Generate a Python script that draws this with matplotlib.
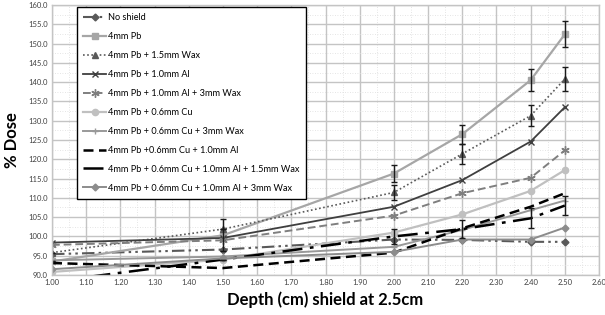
import matplotlib
matplotlib.use("Agg")
import matplotlib.pyplot as plt
from matplotlib.ticker import MultipleLocator, FormatStrFormatter

plt.rcParams['font.family'] = ['Lato', 'DejaVu Sans']

depth = [1.0, 1.5, 2.0, 2.2, 2.4, 2.5]

labels = [
    "No shield",
    "4mm Pb",
    "4mm Pb + 1.5mm Wax",
    "4mm Pb + 1.0mm Al",
    "4mm Pb + 1.0mm Al + 3mm Wax",
    "4mm Pb + 0.6mm Cu",
    "4mm Pb + 0.6mm Cu + 3mm Wax",
    "4mm Pb +0.6mm Cu + 1.0mm Al",
    "4mm Pb + 0.6mm Cu + 1.0mm Al + 1.5mm Wax",
    "4mm Pb + 0.6mm Cu + 1.0mm Al + 3mm Wax",
]

no_shield      = [95.4, 96.6, 99.2, 99.1, 98.6, 98.6]
pb             = [93.5, 100.3, 116.3, 126.5, 140.5, 152.4]
pb_wax15       = [95.8, 101.9, 111.4, 121.4, 131.3, 140.8]
pb_al          = [98.4, 99.6, 107.7, 114.6, 124.6, 133.5]
pb_al_wax3     = [97.8, 99.0, 105.4, 111.2, 115.2, 122.3]
pb_cu          = [90.8, 94.0, 101.0, 105.7, 111.8, 117.2]
pb_cu_wax3     = [93.8, 94.8, 97.3, 101.7, 106.8, 109.3]
pb_cu_al       = [93.1, 91.8, 95.8, 102.1, 107.7, 111.2]
pb_cu_al_wax15 = [88.3, 94.0, 100.0, 101.9, 104.7, 108.0]
pb_cu_al_wax3  = [91.5, 94.3, 96.0, 99.2, 99.2, 102.3]

err_pb         = [0, 4.1, 2.3, 2.5, 2.8, 3.4]
err_pb_wax15   = [0, 0, 2.0, 2.5, 2.7, 3.0]
err_cu_al_w15  = [0, 0, 2.0, 2.4, 2.6, 2.4]

series = [no_shield, pb, pb_wax15, pb_al, pb_al_wax3, pb_cu, pb_cu_wax3,
          pb_cu_al, pb_cu_al_wax15, pb_cu_al_wax3]

styles = [
    dict(color='#595959', ls=(0, (6, 2, 1.2, 2, 1.2, 2)), lw=1.5, marker='D', ms=3.5),
    dict(color='#a6a6a6', ls='-', lw=1.6, marker='s', ms=5),
    dict(color='#595959', ls=(0, (1, 1.5)), lw=1.2, marker='^', ms=4.5),
    dict(color='#3f3f3f', ls='-', lw=1.3, marker='x', ms=5, mew=1.0),
    dict(color='#7f7f7f', ls=(0, (4, 2)), lw=1.4, marker=(6, 2, 0), ms=6, mew=1.0),
    dict(color='#c0c0c0', ls='-', lw=1.6, marker='o', ms=4.5),
    dict(color='#999999', ls='-', lw=1.4, marker='+', ms=5, mew=1.0),
    dict(color='#000000', ls=(0, (4, 2.2)), lw=1.8, marker=None),
    dict(color='#000000', ls=(0, (8, 3, 1.5, 3)), lw=1.8, marker=None),
    dict(color='#8c8c8c', ls='-', lw=1.4, marker='D', ms=3.5),
]

fig = plt.figure(figsize=(6.05, 3.15), dpi=100)
ax = fig.add_axes([52/605, 40/315, 547/605, 270/315])

for vals, lab, st in zip(series, labels, styles):
    ax.plot(depth, vals, label=lab, **st)

for vals, err in [(pb, err_pb), (pb_wax15, err_pb_wax15), (pb_cu_al_wax15, err_cu_al_w15)]:
    ax.errorbar(depth, vals, yerr=err, fmt='none', ecolor='#1a1a1a', elinewidth=1.0,
                capsize=2, capthick=1.0)

ax.set_xlim(1.0, 2.6)
ax.set_ylim(90, 160)
ax.xaxis.set_major_locator(MultipleLocator(0.1))
ax.yaxis.set_major_locator(MultipleLocator(5))
ax.xaxis.set_major_formatter(FormatStrFormatter('%.2f'))
ax.yaxis.set_major_formatter(FormatStrFormatter('%.1f'))
ax.xaxis.set_minor_locator(MultipleLocator(0.05))
ax.yaxis.set_minor_locator(MultipleLocator(2.5))
ax.grid(which='major', color='#c4c4c4', lw=1.0)
ax.grid(which='minor', color='#dcdcdc', lw=0.6, ls=(0, (1, 2)))
ax.set_axisbelow(True)
ax.tick_params(which='both', length=0, labelsize=5.5, labelcolor='#404040', pad=3)
for sp in ax.spines.values():
    sp.set_color('#c4c4c4')
    sp.set_linewidth(1.0)

ax.set_xlabel("Depth (cm) shield at 2.5cm", fontsize=12, fontweight='bold', labelpad=4)
ax.set_ylabel("% Dose", fontsize=12, fontweight='bold', labelpad=6)

leg = ax.legend(loc='upper left', bbox_to_anchor=(25/547, 268/270), borderaxespad=0,
                fontsize=6.6, frameon=True, fancybox=False, edgecolor='#000000',
                framealpha=1, labelspacing=1.08, handlelength=2.5, handletextpad=0.2,
                borderpad=0.7)
leg.get_frame().set_linewidth(1.0)

fig.savefig("out.png", dpi=100)
